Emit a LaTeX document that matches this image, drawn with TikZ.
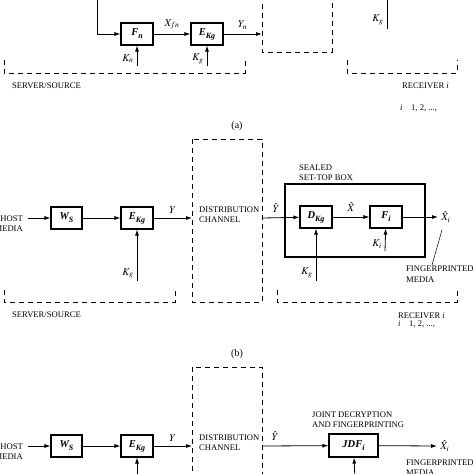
\documentclass[tikz,border=0pt]{standalone}
\usepackage{mathptmx}
\usepackage{fontspec}
\setmainfont{Liberation Serif}
\usetikzlibrary{arrows.meta}
\newcommand{\bsub}[2]{#1\raisebox{-3pt}{\fontsize{8}{8}\selectfont #2}}

\begin{document}
\begin{tikzpicture}[
  x=1pt, y=-1pt,
  blk/.style={draw, line width=1.1pt, minimum width=32pt, minimum height=22pt, inner sep=0pt, font=\fontsize{10.5}{12}\selectfont\bfseries\itshape},
  arr/.style={-{Latex[length=6pt, width=4pt]}, line width=0.8pt},
  dsh/.style={dash pattern=on 5pt off 4pt, line width=0.9pt},
  captxt/.style={font=\fontsize{8.6}{10}\selectfont, align=left, inner sep=0pt},
  sym/.style={font=\fontsize{10.5}{12}\selectfont, inner sep=0pt}
]
  \clip (0,0) rectangle (474,474);

  % (a) fingerprinting at the source
  \coordinate (ina) at (97,-2);
  \node[blk] (fna) at (137,34) {\bsub{F}{n}};
  \node[blk] (eka) at (207,34) {\bsub{E}{Kg}};
  \coordinate (cha) at (262,34);
  \coordinate (kna) at (137,66);
  \coordinate (kga) at (207,66);
  \coordinate (kgr) at (387,29);
  \draw[arr] (ina) |- (fna);
  \draw[arr] (fna) -- (eka) node[sym, midway, above=4pt] {$X_{fn}$};
  \draw[arr] (eka) -- (cha) node[sym, midway, above=4pt] {$Y_n$};
  \draw[arr] (kna) -- (fna) node[sym, pos=0.35, left=3pt] {$K_n$};
  \draw[arr] (kga) -- (eka) node[sym, pos=0.35, left=3pt] {$K_g$};
  \draw[line width=0.8pt] (kgr) -- ++(0,-31) node[sym, pos=0.3, left=3pt] {$K_g$};
  \draw[dsh] (262,-5) -- (262,52) -- (332,52) -- (332,-5);
  \draw[dsh] (4,60) -- (4,73) -- (245,73) -- (245,60);
  \draw[dsh] (347,60) -- (347,73) -- (457,73) -- (457,60);
  \node[captxt, anchor=west] (srva) at (12,86) {SERVER/SOURCE};
  \node[captxt, anchor=west] (rcva) at (402,86) {RECEIVER \textit{i}};
  \node[captxt, anchor=west] (idxa) at (400,108) {\textit{i}\quad 1, 2, ...,};
  \node[font=\fontsize{10}{12}\selectfont, inner sep=0pt] (capa) at (237,126) {(a)};

  % (b) sealed set-top box
  \draw[dsh] (192,139) rectangle (262,302);
  \node[captxt, anchor=west] (chb) at (199,215) {DISTRIBUTION\\CHANNEL};
  \node[captxt, anchor=east, align=right] (hsb) at (23,224) {HOST\\MEDIA};
  \coordinate (hb) at (28,218);
  \node[blk, minimum width=31pt] (wsb) at (66.5,218) {\bsub{W}{S}};
  \node[blk] (ekb) at (137,218) {\bsub{E}{Kg}};
  \coordinate (chl) at (192,218);
  \coordinate (chr) at (262,218);
  \coordinate (kgb) at (137,281);
  \draw[arr] (hb) -- (wsb);
  \draw[arr] (wsb) -- (ekb);
  \draw[arr] (ekb) -- (chl) node[sym, midway, above=4pt] {$Y$};
  \draw[arr] (kgb) -- (ekb) node[sym, pos=0.15, left=3pt] {$K_g$};

  \node[draw, line width=1.1pt, minimum width=140pt, minimum height=73pt, inner sep=0pt] (stb) at (355,220.5) {};
  \node[captxt, anchor=south west] (stl) at (299,181) {SEALED\\SET-TOP BOX};
  \node[blk] (dkb) at (316,217) {\bsub{D}{Kg}};
  \node[blk] (fib) at (386,217) {\bsub{F}{i}};
  \coordinate (xib) at (438,217);
  \coordinate (kgd) at (316,281);
  \coordinate (kib) at (385,251);
  \draw[arr] (chr) -- (dkb) node[sym, pos=0.38, above=5pt] {$\hat{Y}$};
  \draw[arr] (dkb) -- (fib) node[sym, midway, above=5pt] {$\hat{X}$};
  \draw[arr] (fib) -- (xib) node[sym, anchor=west, xshift=3pt] {$\hat{X}_i$};
  \draw[arr] (kgd) -- (dkb) node[sym, pos=0.15, left=3pt] {$K_g$};
  \draw[arr] (kib) -- (fib) node[sym, pos=0.3, left=3pt] {$K_i$};
  \node[captxt, anchor=west] (fpb) at (406,274) {FINGERPRINTED\\[1pt]MEDIA};
  \draw[line width=0.5pt] (442,230) -- (432,265);

  \draw[dsh] (4,290) -- (4,302) -- (175,302) -- (175,290);
  \draw[dsh] (277,290) -- (277,302) -- (457,302) -- (457,290);
  \node[captxt, anchor=west] (srvb) at (12,315) {SERVER/SOURCE};
  \node[captxt, anchor=west] (rcvb) at (398,316) {RECEIVER \textit{i}};
  \node[captxt, anchor=west] (idxb) at (398,324.5) {\textit{i}\quad 1, 2, ...,};
  \node[font=\fontsize{10}{12}\selectfont, inner sep=0pt] (capb) at (237,354) {(b)};

  % (c) joint decryption and fingerprinting
  \draw[dsh] (192,480) -- (192,367) -- (262,367) -- (262,480);
  \node[captxt, anchor=west] (chc) at (199,443) {DISTRIBUTION\\CHANNEL};
  \node[captxt, anchor=east, align=right] (hsc) at (23,452) {HOST\\MEDIA};
  \coordinate (hc) at (28,446);
  \node[blk, minimum width=31pt] (wsc) at (66.5,446) {\bsub{W}{S}};
  \node[blk] (ekc) at (137,446) {\bsub{E}{Kg}};
  \coordinate (cll) at (192,446);
  \coordinate (clr) at (262,446);
  \coordinate (kgc) at (137,480);
  \draw[arr] (hc) -- (wsc);
  \draw[arr] (wsc) -- (ekc);
  \draw[arr] (ekc) -- (cll) node[sym, midway, above=4pt] {$Y$};
  \draw[arr] (kgc) -- (ekc);

  \node[blk, minimum width=49pt, minimum height=23pt] (jdf) at (353.5,445.5) {\bsub{JDF}{i}};
  \node[captxt, anchor=south west] (jdl) at (312,428) {JOINT DECRYPTION\\AND FINGERPRINTING};
  \coordinate (xic) at (437,446);
  \coordinate (kjc) at (355,480);
  \draw[arr] (clr) -- (jdf) node[sym, pos=0.2, above=5pt] {$\hat{Y}$};
  \draw[arr] (jdf) -- (xic) node[sym, anchor=west, xshift=3pt] {$\hat{X}_i$};
  \draw[arr] (kjc) -- (jdf);
  \node[captxt, anchor=west] (fpc) at (406,468) {FINGERPRINTED\\MEDIA};
\end{tikzpicture}
\end{document}
